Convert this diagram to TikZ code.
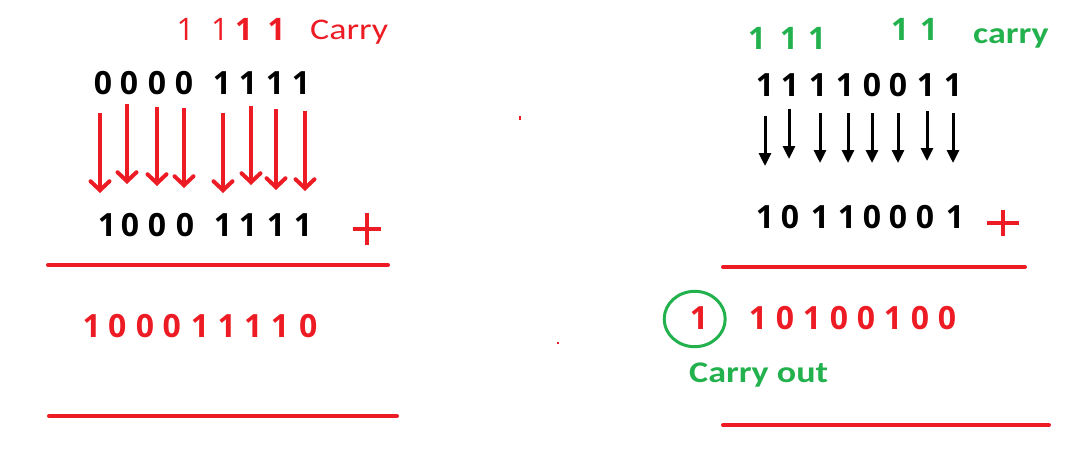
\documentclass[tikz,border=0pt]{standalone}
\usepackage{fontspec}
\setmainfont{Open Sans}
\newfontfamily\carl{Carlito}[FakeStretch=1.2]
\usetikzlibrary{arrows.meta}
\definecolor{pred}{HTML}{ED1C24}
\definecolor{pgreen}{HTML}{22B14C}
\tikzset{
  dig/.style={inner sep=0pt, font=\fontsize{32}{32}\selectfont\bfseries},
  digred/.style={dig, text=pred},
  carryreg/.style={inner sep=0pt, text=pred, font=\fontsize{31}{31}\selectfont},
  carrybold/.style={inner sep=0pt, text=pred, font=\fontsize{31}{31}\selectfont\bfseries},
  carrygreen/.style={inner sep=0pt, text=pgreen, font=\fontsize{31}{31}\selectfont\bfseries},
  wordlabel/.style={inner sep=0pt, anchor=base west, font=\fontsize{30}{30}\carl},
  redarrow/.style={draw=pred, line width=4pt, -{Straight Barb[length=9pt,width=19pt,line cap=round]}},
  blackarrow/.style={draw=black, line width=3pt, -{Triangle[length=13pt,width=12pt]}},
  redrule/.style={draw=pred, line width=4pt, line cap=round},
  plussign/.style={draw=pred, line width=4pt},
}
\begin{document}
\begin{tikzpicture}[x=1pt,y=-1pt]
\useasboundingbox (0,0) rectangle (1091,463);

% ---------------- left panel ----------------
\node[carryreg]  (lc1) at (185.5,29) {1};
\node[carryreg]  (lc2) at (220,29) {1};
\node[carrybold] (lc3) at (244,29) {1};
\node[carrybold] (lc4) at (276.5,29) {1};
\node[wordlabel, text=pred] (lcarry) at (310,39.5) {Carry};

\foreach \x/\d [count=\i] in {103/0,129/0,157/0,184/0,222/1,248/1,275/1,301/1}
  \node[dig] (la\i) at (\x,83) {\d};

\foreach \x/\t/\b [count=\i] in {100/113/193,127/104/184,157/107/186,184/108/188,223/113/193,251/106/185,276/109/190,305/111/191}{
  \coordinate (las\i) at (\x,\t);
  \coordinate (lae\i) at (\x,\b);
  \draw[redarrow] (las\i) -- (lae\i);
}

\foreach \x/\d [count=\i] in {107/1,130/0,157/0,185/0,223/1,248/1,276/1,303/1}
  \node[dig] (lb\i) at (\x,225) {\d};

\coordinate (lp) at (367,229);
\draw[plussign] ([xshift=-14pt]lp) -- ([xshift=14pt]lp);
\draw[plussign] ([yshift=-16pt]lp) -- ([yshift=16pt]lp);

\coordinate (lr1a) at (48,265); \coordinate (lr1b) at (388,265);
\draw[redrule] (lr1a) -- (lr1b);

\foreach \x/\d [count=\i] in {91.7/1,117.3/0,145/0,171.7/0,200/1,226.7/1,253.3/1,280/1,308.3/0}
  \node[digred] (ls\i) at (\x,326) {\d};

\coordinate (lr2a) at (49,416); \coordinate (lr2b) at (397,416);
\draw[redrule] (lr2a) -- (lr2b);

% stray marks
\fill[pred] (519,116) rectangle (521,120);
\fill[pred] (557,342) rectangle (559,344);

% ---------------- right panel ----------------
\node[carrygreen] (rc1) at (757,38) {1};
\node[carrygreen] (rc2) at (789,38) {1};
\node[carrygreen] (rc3) at (817,38) {1};
\node[carrygreen] (rc4) at (900,29) {1};
\node[carrygreen] (rc5) at (929,29) {1};
\node[wordlabel, text=pgreen, font=\fontsize{30}{30}\carl\bfseries] (rcarry) at (973,43.5) {carry};

\foreach \x/\d [count=\i] in {765/1,790/1,818/1,845/1,872/0,898/0,926/1,953/1}
  \node[dig] (ra\i) at (\x,85) {\d};

\foreach \x/\t/\b [count=\i] in {765/116/166,789/109/159,820/113/163,848/113/163,872/113/163,898/113/163,927/111/161,953/113/163}{
  \coordinate (ras\i) at (\x,\t);
  \coordinate (rae\i) at (\x,\b);
  \draw[blackarrow] (ras\i) -- (rae\i);
}

\foreach \x/\d [count=\i] in {765/1,790/0,820/1,847/1,872/0,898/0,925/0,955/1}
  \node[dig] (rb\i) at (\x,217) {\d};

\coordinate (rp) at (1003,223);
\draw[plussign] ([xshift=-16pt]rp) -- ([xshift=16pt]rp);
\draw[plussign] ([yshift=-13pt]rp) -- ([yshift=13pt]rp);

\coordinate (rr1a) at (723,267); \coordinate (rr1b) at (1025,267);
\draw[redrule] (rr1a) -- (rr1b);

\node[digred] (cout) at (699,318) {1};
\draw[pgreen, line width=3pt] (694.7,319) ellipse [x radius=30.5pt, y radius=27.7pt];

\foreach \x/\d [count=\i] in {758/1,785/0,812/1,839/0,866/0,893/1,920/0,947/0}
  \node[digred] (rs\i) at (\x,318) {\d};

\node[wordlabel, text=pgreen, font=\fontsize{30}{30}\carl\bfseries] (carryout) at (689,382) {Carry out};

\coordinate (rr2a) at (723,425); \coordinate (rr2b) at (1049,425);
\draw[redrule] (rr2a) -- (rr2b);
\end{tikzpicture}
\end{document}
